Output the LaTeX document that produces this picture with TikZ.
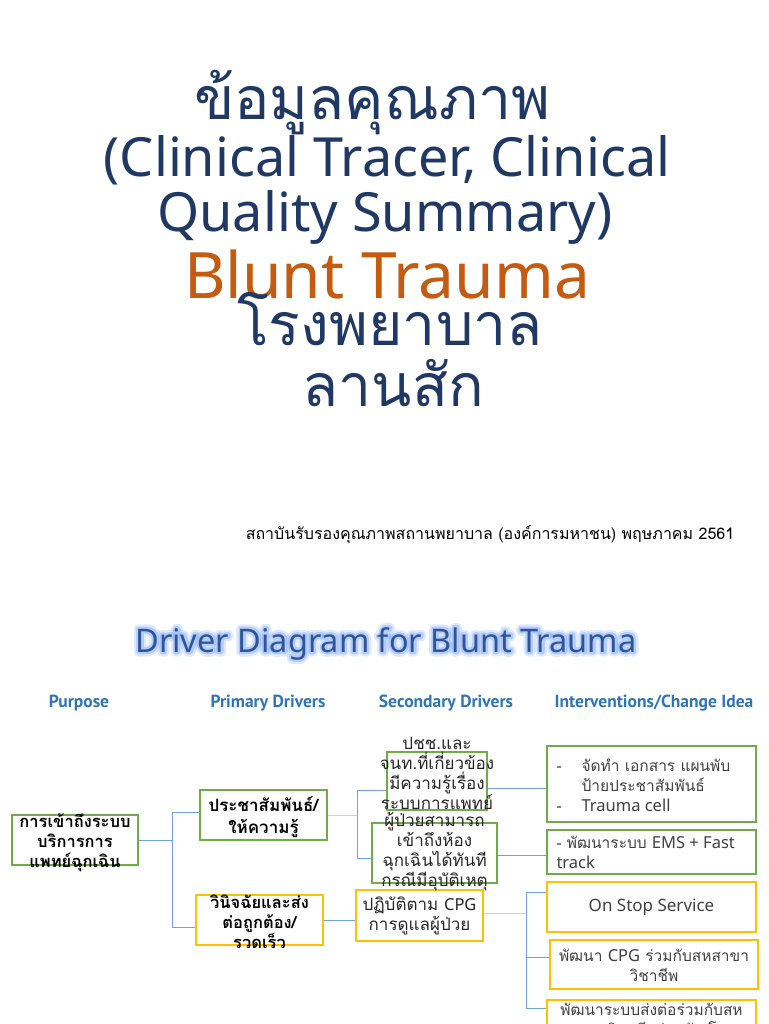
\documentclass[tikz,border=0pt]{standalone}
\usepackage{fontspec}
\setmainfont{Noto Sans}
\newfontfamily\thaifont[Script=Thai]{Loma}
\newfontfamily\hdrfont{PT Sans}
\usetikzlibrary{positioning}

\definecolor{titleblue}{HTML}{1F3864}
\definecolor{traumaorange}{HTML}{C55A11}
\definecolor{hdrblue}{HTML}{2E75B6}
\definecolor{drvblue}{HTML}{2F5597}
\definecolor{glowblue}{HTML}{7FA8F5}
\definecolor{boxgreen}{HTML}{70AD47}
\definecolor{boxyellow}{HTML}{FFC000}
\definecolor{connblue}{HTML}{6FA3DA}
\definecolor{ivgrey}{HTML}{404040}

\newcommand{\lat}[1]{{\rmfamily\fontsize{16.5}{20}\selectfont #1}}
\newcommand{\halo}[2]{\special{pdf:literal direct 1 Tr #1 w 1 j 1 J}#2\special{pdf:literal direct 0 Tr}}

\tikzset{
  ttl/.style={text=titleblue, anchor=base, font=\fontsize{54}{60}\selectfont},
  thttl/.style={text=titleblue, anchor=base, font=\thaifont\fontsize{59}{64}\selectfont},
  hdr/.style={text=hdrblue, anchor=base, font=\hdrfont\bfseries\fontsize{17.5}{20}\selectfont},
  gbox/.style={draw=boxgreen, line width=1.2pt, inner sep=0pt},
  ybox/.style={draw=boxyellow, line width=1.2pt, inner sep=0pt},
  btxt/.style={align=center, font=\thaifont\bfseries\fontsize{16.5}{20}\selectfont},
  ntxt/.style={align=center, text=black!85, font=\thaifont\fontsize{17}{20}\selectfont},
  ivtxt/.style={text=ivgrey, font=\thaifont\fontsize{15.5}{20}\selectfont},
  conn/.style={draw=connblue, line width=0.9pt},
  drvtxt/.style={anchor=base, font=\fontsize{32.5}{38}\selectfont}
}

\begin{document}
\begin{tikzpicture}[x=1pt,y=-1pt]
    \useasboundingbox (0,0) rectangle (768,1024);
    \clip (0,0) rectangle (768,1024);

    \node[thttl] (t1) at (372,120) {ข้อมูลคุณภาพ};
    \node[ttl] (t2) at (387,177) {(Clinical Tracer, Clinical};
    \node[ttl] (t3) at (385,232) {Quality Summary)};
    \node[ttl, text=traumaorange, font=\fontsize{64}{70}\selectfont] (t4) at (387,298) {Blunt Trauma};
    \node[thttl] (t5) at (390,345) {โรงพยาบาล};
    \node[thttl] (t6) at (393,406) {ลานสัก};

    \node[anchor=base, font=\thaifont\fontsize{16}{19}\selectfont] (sub) at (490,539)
        {สถาบันรับรองคุณภาพสถานพยาบาล (องค์การมหาชน) พฤษภาคม 2561};

    \node[drvtxt, text=glowblue, opacity=0.25] (glow1) at (386,652) {\halo{9}{Driver Diagram for Blunt Trauma}};
    \node[drvtxt, text=glowblue, opacity=0.45] (glow2) at (386,652) {\halo{4.5}{Driver Diagram for Blunt Trauma}};
    \node[drvtxt, text=drvblue] (drv) at (386,652) {Driver Diagram for Blunt Trauma};

    \node[hdr] (h1) at (79,707) {Purpose};
    \node[hdr] (h2) at (268,707) {Primary Drivers};
    \node[hdr] (h3) at (446,707) {Secondary Drivers};
    \node[hdr] (h4) at (654,707) {Interventions/Change Idea};

    \node[gbox, minimum width=126, minimum height=50] (pur) at (75,840) {};
    \node[gbox, minimum width=127, minimum height=50] (pd1) at (263.5,815) {};
    \node[ybox, minimum width=127, minimum height=50] (pd2) at (259.5,920) {};
    \node[gbox, minimum width=100, minimum height=58] (sd1) at (437,781) {};
    \node[gbox, minimum width=125, minimum height=60] (sd2) at (434.5,853) {};
    \node[ybox, minimum width=127, minimum height=51] (sd3) at (419.5,915.5) {};
    \node[gbox, minimum width=209, minimum height=76] (iv1) at (651.5,784) {};
    \node[gbox, minimum width=209, minimum height=44] (iv2) at (651.5,852) {};
    \node[ybox, minimum width=209, minimum height=50] (iv3) at (651.5,907) {};
    \node[ybox, line width=1.8pt, minimum width=208, minimum height=49] (iv4) at (654,964.5) {};
    \node[ybox, minimum width=209, minimum height=50] (iv5) at (651.5,1025) {};

    \node[btxt] (pur-t) at (75,843) {การเข้าถึงระบบ\\บริการการ\\แพทย์ฉุกเฉิน};
    \node[btxt, font=\thaifont\bfseries\fontsize{17}{22}\selectfont] (pd1-t) at (263.5,817) {ประชาสัมพันธ์/\\ให้ความรู้};
    \node[btxt] (pd2-t) at (259.5,922) {วินิจฉัยและส่ง\\ต่อถูกต้อง/\\รวดเร็ว};
    \node[ntxt] (sd1-t) at (437,773) {ปชช.และ\\จนท.ที่เกี่ยวข้อง\\มีความรู้เรื่อง\\ระบบการแพทย์};
    \node[ntxt] (sd2-t) at (434.5,852) {ผู้ป่วยสามารถ\\เข้าถึงห้อง\\ฉุกเฉินได้ทันที\\กรณีมีอุบัติเหตุ};
    \node[ntxt] (sd3-t) at (419.5,916) {ปฏิบัติตาม \lat{CPG}\\การดูแลผู้ป่วย};
    \node[ivtxt, align=left, anchor=west] (iv1-t) at (553,785)
        {\makebox[25pt][l]{-}จัดทำ เอกสาร แผนพับ\\\hspace*{25pt}ป้ายประชาสัมพันธ์\\\makebox[25pt][l]{-}\lat{Trauma cell}};
    \node[ivtxt, align=left, anchor=west] (iv2-t) at (553,852) {- พัฒนาระบบ \lat{EMS + Fast}\\\lat{track}};
    \node[ivtxt, font=\fontsize{17}{20}\selectfont] (iv3-t) at (651.5,907) {On Stop Service};
    \node[ivtxt, align=center] (iv4-t) at (654,965) {พัฒนา \lat{CPG} ร่วมกับสหสาขา\\วิชาชีพ};
    \node[ivtxt, align=center, anchor=north] (iv5-t) at (651.5,1000) {พัฒนาระบบส่งต่อร่วมกับสห\\สาขาวิชาชีพร่วมกับ โรง};

    \draw[conn] (pur.east) -- ++(34,0) coordinate (j1);
    \draw[conn] ([yshift=3pt]pd1.west) -| (j1) |- ([yshift=-7pt]pd2.west);
    \draw[conn, draw=connblue!45] (pd1.east) -- ++(30,0) coordinate (j2);
    \draw[conn] ([yshift=-9pt]sd1.west) -| (j2) |- ([yshift=-5pt]sd2.west);
    \draw[conn] ([yshift=-7pt]sd1.east) coordinate (a1) -- (a1 -| iv1.west);
    \draw[conn] ([yshift=-2pt]sd2.east) coordinate (a2) -- (a2 -| iv2.west);
    \draw[conn] (pd2.east) -- (pd2.east -| sd3.west);
    \draw[conn, draw=connblue!45] ([yshift=2pt]sd3.east) -- ++(43,0) coordinate (j3);
    \draw[conn] ([yshift=15pt]iv3.west) -| (j3) |- ([yshift=17pt]iv5.west);
    \draw[conn] ([yshift=7pt]iv4.west) coordinate (a3) -- (a3 -| j3);
\end{tikzpicture}
\end{document}
